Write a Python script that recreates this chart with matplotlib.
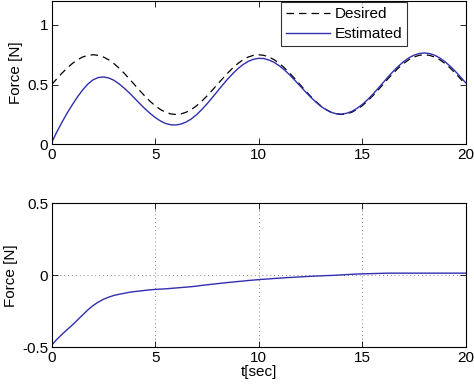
import numpy as np
import matplotlib
matplotlib.use("Agg")
import matplotlib.pyplot as plt

plt.rcParams["font.family"] = ["Liberation Sans", "DejaVu Sans"]
plt.rcParams["axes.unicode_minus"] = False

# time samples [s]
t = np.arange(0, 20.001, 0.25)

# desired force [N]
desired = [0.5, 0.549, 0.596, 0.639, 0.677, 0.708, 0.731, 0.745,
           0.75, 0.745, 0.731, 0.708, 0.677, 0.639, 0.596, 0.549,
           0.5, 0.451, 0.404, 0.361, 0.323, 0.292, 0.269, 0.255,
           0.25, 0.255, 0.269, 0.292, 0.323, 0.361, 0.404, 0.451,
           0.5, 0.549, 0.596, 0.639, 0.677, 0.708, 0.731, 0.745,
           0.75, 0.745, 0.731, 0.708, 0.677, 0.639, 0.596, 0.549,
           0.5, 0.451, 0.404, 0.361, 0.323, 0.292, 0.269, 0.255,
           0.25, 0.255, 0.269, 0.292, 0.323, 0.361, 0.404, 0.451,
           0.5, 0.549, 0.596, 0.639, 0.677, 0.708, 0.731, 0.745,
           0.75, 0.745, 0.731, 0.708, 0.677, 0.639, 0.596, 0.549,
           0.5]

# estimated force [N]
estimated = [0.015, 0.104, 0.186, 0.262, 0.332, 0.398, 0.456, 0.505,
             0.540, 0.559, 0.564, 0.556, 0.537, 0.507, 0.471, 0.431,
             0.387, 0.342, 0.299, 0.260, 0.225, 0.196, 0.175, 0.164,
             0.162, 0.170, 0.187, 0.213, 0.248, 0.291, 0.338, 0.389,
             0.442, 0.495, 0.546, 0.592, 0.634, 0.668, 0.695, 0.712,
             0.720, 0.718, 0.706, 0.686, 0.657, 0.622, 0.581, 0.536,
             0.489, 0.442, 0.397, 0.356, 0.319, 0.290, 0.268, 0.256,
             0.253, 0.260, 0.276, 0.301, 0.333, 0.372, 0.416, 0.464,
             0.514, 0.564, 0.611, 0.654, 0.692, 0.723, 0.746, 0.760,
             0.765, 0.760, 0.746, 0.723, 0.692, 0.654, 0.611, 0.564,
             0.515]

# estimation error [N]
error = [-0.485, -0.445, -0.41, -0.377, -0.345, -0.31, -0.275, -0.24,
         -0.21, -0.186, -0.167, -0.152, -0.14, -0.132, -0.125, -0.118,
         -0.113, -0.109, -0.105, -0.101, -0.098, -0.096, -0.094, -0.091,
         -0.088, -0.085, -0.082, -0.079, -0.075, -0.070, -0.066, -0.062,
         -0.058, -0.054, -0.050, -0.047, -0.043, -0.040, -0.036, -0.033,
         -0.030, -0.027, -0.025, -0.022, -0.020, -0.017, -0.015, -0.013,
         -0.011, -0.009, -0.007, -0.005, -0.004, -0.002, -0.001, 0.001,
         0.003, 0.005, 0.007, 0.009, 0.010, 0.011, 0.012, 0.013,
         0.014, 0.015, 0.015, 0.015, 0.015, 0.015, 0.015, 0.015,
         0.015, 0.015, 0.015, 0.015, 0.015, 0.015, 0.015, 0.015,
         0.015]

blue = "#2f2fb0"
fs = 11

fig = plt.figure(figsize=(4.74, 3.87), dpi=100)
ax1 = fig.add_axes([0.109, 0.627, 0.8734, 0.3705])
ax2 = fig.add_axes([0.109, 0.1026, 0.8734, 0.372])

ax1.plot(t, desired, color="black", lw=0.9, dashes=(6, 4), label="Desired")
ax1.plot(t, estimated, color=blue, lw=1.0, label="Estimated")
ax1.set_xlim(0, 20)
ax1.set_ylim(0, 1.2)
ax1.set_xticks([0, 5, 10, 15, 20])
ax1.set_yticks([0, 0.5, 1])
ax1.set_yticklabels(["0", "0.5", "1"])
ax1.set_ylabel("Force [N]", fontsize=fs, labelpad=3)
leg = ax1.legend(loc="upper right", bbox_to_anchor=(0.8575, 0.99), fontsize=fs,
                 frameon=True, fancybox=False, edgecolor="black",
                 handlelength=2.9, handletextpad=0.3, borderpad=0.3,
                 labelspacing=0.4, borderaxespad=0)
leg.get_frame().set_linewidth(0.8)

ax2.plot(t, error, color=blue, lw=1.0)
ax2.set_xlim(0, 20)
ax2.set_ylim(-0.5, 0.5)
ax2.set_xticks([0, 5, 10, 15, 20])
ax2.set_yticks([-0.5, 0, 0.5])
ax2.set_yticklabels(["-0.5", "0", "0.5"])
ax2.set_ylabel("Force [N]", fontsize=fs, labelpad=3)
ax2.set_xlabel("t[sec]", fontsize=fs, labelpad=0)
ax2.grid(True, color="#888888", linestyle=(0, (1, 3)), lw=0.7)

for ax in (ax1, ax2):
    ax.tick_params(direction="in", top=True, right=True, length=4,
                   width=0.6, labelsize=fs, pad=2.5)
    for s in ax.spines.values():
        s.set_linewidth(0.8)

fig.savefig("out.png", dpi=100, facecolor="white")
